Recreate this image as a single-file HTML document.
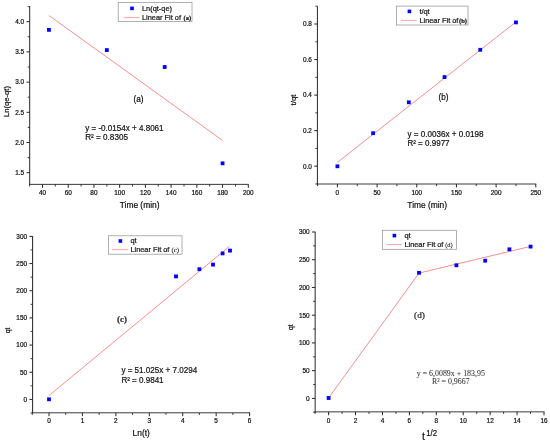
<!DOCTYPE html>
<html lang="en"><head><meta charset="utf-8"><title>Kinetic model fits</title>
<style>
html,body{margin:0;padding:0;background:#fff;}
body{width:550px;height:443px;overflow:hidden;font-family:"Liberation Sans", sans-serif;}
svg{display:block;}
</style></head><body>
<svg width="550" height="443" viewBox="0 0 550 443">
<defs><filter id="soft" x="-2%" y="-2%" width="104%" height="104%"><feGaussianBlur stdDeviation="0.25"/></filter><filter id="soft2" x="-2%" y="-2%" width="104%" height="104%"><feGaussianBlur stdDeviation="0.12"/></filter></defs>
<rect width="550" height="443" fill="#fff"/>
<g filter="url(#soft2)">
<line x1="29.7" y1="6.1" x2="29.7" y2="184.85" stroke="#262626" stroke-width="1.0"/>
<line x1="29.2" y1="184.4" x2="248.75" y2="184.4" stroke="#262626" stroke-width="0.9"/>
<line x1="26.5" y1="21.7" x2="29.7" y2="21.7" stroke="#262626" stroke-width="1.0"/>
<line x1="26.5" y1="51.9" x2="29.7" y2="51.9" stroke="#262626" stroke-width="1.0"/>
<line x1="26.5" y1="82.1" x2="29.7" y2="82.1" stroke="#262626" stroke-width="1.0"/>
<line x1="26.5" y1="112.3" x2="29.7" y2="112.3" stroke="#262626" stroke-width="1.0"/>
<line x1="26.5" y1="142.5" x2="29.7" y2="142.5" stroke="#262626" stroke-width="1.0"/>
<line x1="26.5" y1="172.7" x2="29.7" y2="172.7" stroke="#262626" stroke-width="1.0"/>
<line x1="27.7" y1="6.6" x2="29.7" y2="6.6" stroke="#262626" stroke-width="0.9"/>
<line x1="27.7" y1="36.8" x2="29.7" y2="36.8" stroke="#262626" stroke-width="0.9"/>
<line x1="27.7" y1="67" x2="29.7" y2="67" stroke="#262626" stroke-width="0.9"/>
<line x1="27.7" y1="97.2" x2="29.7" y2="97.2" stroke="#262626" stroke-width="0.9"/>
<line x1="27.7" y1="127.4" x2="29.7" y2="127.4" stroke="#262626" stroke-width="0.9"/>
<line x1="27.7" y1="157.6" x2="29.7" y2="157.6" stroke="#262626" stroke-width="0.9"/>
<line x1="42.5" y1="184.4" x2="42.5" y2="187.8" stroke="#262626" stroke-width="1.0"/>
<line x1="68.22" y1="184.4" x2="68.22" y2="187.8" stroke="#262626" stroke-width="1.0"/>
<line x1="93.95" y1="184.4" x2="93.95" y2="187.8" stroke="#262626" stroke-width="1.0"/>
<line x1="119.67" y1="184.4" x2="119.67" y2="187.8" stroke="#262626" stroke-width="1.0"/>
<line x1="145.4" y1="184.4" x2="145.4" y2="187.8" stroke="#262626" stroke-width="1.0"/>
<line x1="171.12" y1="184.4" x2="171.12" y2="187.8" stroke="#262626" stroke-width="1.0"/>
<line x1="196.85" y1="184.4" x2="196.85" y2="187.8" stroke="#262626" stroke-width="1.0"/>
<line x1="222.57" y1="184.4" x2="222.57" y2="187.8" stroke="#262626" stroke-width="1.0"/>
<line x1="248.3" y1="184.4" x2="248.3" y2="187.8" stroke="#262626" stroke-width="1.0"/>
<line x1="29.64" y1="184.4" x2="29.64" y2="186.5" stroke="#262626" stroke-width="0.9"/>
<line x1="55.36" y1="184.4" x2="55.36" y2="186.5" stroke="#262626" stroke-width="0.9"/>
<line x1="81.09" y1="184.4" x2="81.09" y2="186.5" stroke="#262626" stroke-width="0.9"/>
<line x1="106.81" y1="184.4" x2="106.81" y2="186.5" stroke="#262626" stroke-width="0.9"/>
<line x1="132.54" y1="184.4" x2="132.54" y2="186.5" stroke="#262626" stroke-width="0.9"/>
<line x1="158.26" y1="184.4" x2="158.26" y2="186.5" stroke="#262626" stroke-width="0.9"/>
<line x1="183.99" y1="184.4" x2="183.99" y2="186.5" stroke="#262626" stroke-width="0.9"/>
<line x1="209.71" y1="184.4" x2="209.71" y2="186.5" stroke="#262626" stroke-width="0.9"/>
<line x1="235.44" y1="184.4" x2="235.44" y2="186.5" stroke="#262626" stroke-width="0.9"/>
<line x1="317.4" y1="6.3" x2="317.4" y2="184.45" stroke="#262626" stroke-width="1.0"/>
<line x1="316.9" y1="184" x2="536.25" y2="184" stroke="#262626" stroke-width="0.9"/>
<line x1="314.2" y1="24" x2="317.4" y2="24" stroke="#262626" stroke-width="1.0"/>
<line x1="314.2" y1="59.55" x2="317.4" y2="59.55" stroke="#262626" stroke-width="1.0"/>
<line x1="314.2" y1="95.1" x2="317.4" y2="95.1" stroke="#262626" stroke-width="1.0"/>
<line x1="314.2" y1="130.65" x2="317.4" y2="130.65" stroke="#262626" stroke-width="1.0"/>
<line x1="314.2" y1="166.2" x2="317.4" y2="166.2" stroke="#262626" stroke-width="1.0"/>
<line x1="315.4" y1="6.23" x2="317.4" y2="6.23" stroke="#262626" stroke-width="0.9"/>
<line x1="315.4" y1="41.78" x2="317.4" y2="41.78" stroke="#262626" stroke-width="0.9"/>
<line x1="315.4" y1="77.33" x2="317.4" y2="77.33" stroke="#262626" stroke-width="0.9"/>
<line x1="315.4" y1="112.88" x2="317.4" y2="112.88" stroke="#262626" stroke-width="0.9"/>
<line x1="315.4" y1="148.42" x2="317.4" y2="148.42" stroke="#262626" stroke-width="0.9"/>
<line x1="315.4" y1="183.97" x2="317.4" y2="183.97" stroke="#262626" stroke-width="0.9"/>
<line x1="337.4" y1="184" x2="337.4" y2="187.4" stroke="#262626" stroke-width="1.0"/>
<line x1="377.08" y1="184" x2="377.08" y2="187.4" stroke="#262626" stroke-width="1.0"/>
<line x1="416.76" y1="184" x2="416.76" y2="187.4" stroke="#262626" stroke-width="1.0"/>
<line x1="456.44" y1="184" x2="456.44" y2="187.4" stroke="#262626" stroke-width="1.0"/>
<line x1="496.12" y1="184" x2="496.12" y2="187.4" stroke="#262626" stroke-width="1.0"/>
<line x1="535.8" y1="184" x2="535.8" y2="187.4" stroke="#262626" stroke-width="1.0"/>
<line x1="317.56" y1="184" x2="317.56" y2="186.1" stroke="#262626" stroke-width="0.9"/>
<line x1="357.24" y1="184" x2="357.24" y2="186.1" stroke="#262626" stroke-width="0.9"/>
<line x1="396.92" y1="184" x2="396.92" y2="186.1" stroke="#262626" stroke-width="0.9"/>
<line x1="436.6" y1="184" x2="436.6" y2="186.1" stroke="#262626" stroke-width="0.9"/>
<line x1="476.28" y1="184" x2="476.28" y2="186.1" stroke="#262626" stroke-width="0.9"/>
<line x1="515.96" y1="184" x2="515.96" y2="186.1" stroke="#262626" stroke-width="0.9"/>
<line x1="32.6" y1="236.1" x2="32.6" y2="413.25" stroke="#262626" stroke-width="1.0"/>
<line x1="32.1" y1="412.8" x2="250.05" y2="412.8" stroke="#262626" stroke-width="0.9"/>
<line x1="29.4" y1="236.4" x2="32.6" y2="236.4" stroke="#262626" stroke-width="1.0"/>
<line x1="29.4" y1="263.57" x2="32.6" y2="263.57" stroke="#262626" stroke-width="1.0"/>
<line x1="29.4" y1="290.73" x2="32.6" y2="290.73" stroke="#262626" stroke-width="1.0"/>
<line x1="29.4" y1="317.9" x2="32.6" y2="317.9" stroke="#262626" stroke-width="1.0"/>
<line x1="29.4" y1="345.07" x2="32.6" y2="345.07" stroke="#262626" stroke-width="1.0"/>
<line x1="29.4" y1="372.23" x2="32.6" y2="372.23" stroke="#262626" stroke-width="1.0"/>
<line x1="29.4" y1="399.4" x2="32.6" y2="399.4" stroke="#262626" stroke-width="1.0"/>
<line x1="30.6" y1="249.98" x2="32.6" y2="249.98" stroke="#262626" stroke-width="0.9"/>
<line x1="30.6" y1="277.15" x2="32.6" y2="277.15" stroke="#262626" stroke-width="0.9"/>
<line x1="30.6" y1="304.32" x2="32.6" y2="304.32" stroke="#262626" stroke-width="0.9"/>
<line x1="30.6" y1="331.48" x2="32.6" y2="331.48" stroke="#262626" stroke-width="0.9"/>
<line x1="30.6" y1="358.65" x2="32.6" y2="358.65" stroke="#262626" stroke-width="0.9"/>
<line x1="30.6" y1="385.82" x2="32.6" y2="385.82" stroke="#262626" stroke-width="0.9"/>
<line x1="30.6" y1="412.98" x2="32.6" y2="412.98" stroke="#262626" stroke-width="0.9"/>
<line x1="49" y1="412.8" x2="49" y2="416.2" stroke="#262626" stroke-width="1.0"/>
<line x1="82.43" y1="412.8" x2="82.43" y2="416.2" stroke="#262626" stroke-width="1.0"/>
<line x1="115.87" y1="412.8" x2="115.87" y2="416.2" stroke="#262626" stroke-width="1.0"/>
<line x1="149.3" y1="412.8" x2="149.3" y2="416.2" stroke="#262626" stroke-width="1.0"/>
<line x1="182.73" y1="412.8" x2="182.73" y2="416.2" stroke="#262626" stroke-width="1.0"/>
<line x1="216.17" y1="412.8" x2="216.17" y2="416.2" stroke="#262626" stroke-width="1.0"/>
<line x1="249.6" y1="412.8" x2="249.6" y2="416.2" stroke="#262626" stroke-width="1.0"/>
<line x1="32.28" y1="412.8" x2="32.28" y2="414.9" stroke="#262626" stroke-width="0.9"/>
<line x1="65.72" y1="412.8" x2="65.72" y2="414.9" stroke="#262626" stroke-width="0.9"/>
<line x1="99.15" y1="412.8" x2="99.15" y2="414.9" stroke="#262626" stroke-width="0.9"/>
<line x1="132.58" y1="412.8" x2="132.58" y2="414.9" stroke="#262626" stroke-width="0.9"/>
<line x1="166.02" y1="412.8" x2="166.02" y2="414.9" stroke="#262626" stroke-width="0.9"/>
<line x1="199.45" y1="412.8" x2="199.45" y2="414.9" stroke="#262626" stroke-width="0.9"/>
<line x1="232.88" y1="412.8" x2="232.88" y2="414.9" stroke="#262626" stroke-width="0.9"/>
<line x1="315.15" y1="231.7" x2="315.15" y2="412.3" stroke="#262626" stroke-width="1.0"/>
<line x1="314.65" y1="411.85" x2="544.45" y2="411.85" stroke="#262626" stroke-width="0.9"/>
<line x1="311.95" y1="232" x2="315.15" y2="232" stroke="#262626" stroke-width="1.0"/>
<line x1="311.95" y1="259.73" x2="315.15" y2="259.73" stroke="#262626" stroke-width="1.0"/>
<line x1="311.95" y1="287.47" x2="315.15" y2="287.47" stroke="#262626" stroke-width="1.0"/>
<line x1="311.95" y1="315.2" x2="315.15" y2="315.2" stroke="#262626" stroke-width="1.0"/>
<line x1="311.95" y1="342.93" x2="315.15" y2="342.93" stroke="#262626" stroke-width="1.0"/>
<line x1="311.95" y1="370.67" x2="315.15" y2="370.67" stroke="#262626" stroke-width="1.0"/>
<line x1="311.95" y1="398.4" x2="315.15" y2="398.4" stroke="#262626" stroke-width="1.0"/>
<line x1="313.15" y1="245.87" x2="315.15" y2="245.87" stroke="#262626" stroke-width="0.9"/>
<line x1="313.15" y1="273.6" x2="315.15" y2="273.6" stroke="#262626" stroke-width="0.9"/>
<line x1="313.15" y1="301.33" x2="315.15" y2="301.33" stroke="#262626" stroke-width="0.9"/>
<line x1="313.15" y1="329.07" x2="315.15" y2="329.07" stroke="#262626" stroke-width="0.9"/>
<line x1="313.15" y1="356.8" x2="315.15" y2="356.8" stroke="#262626" stroke-width="0.9"/>
<line x1="313.15" y1="384.53" x2="315.15" y2="384.53" stroke="#262626" stroke-width="0.9"/>
<line x1="313.15" y1="412.27" x2="315.15" y2="412.27" stroke="#262626" stroke-width="0.9"/>
<line x1="328.6" y1="411.85" x2="328.6" y2="415.25" stroke="#262626" stroke-width="1.0"/>
<line x1="355.53" y1="411.85" x2="355.53" y2="415.25" stroke="#262626" stroke-width="1.0"/>
<line x1="382.45" y1="411.85" x2="382.45" y2="415.25" stroke="#262626" stroke-width="1.0"/>
<line x1="409.38" y1="411.85" x2="409.38" y2="415.25" stroke="#262626" stroke-width="1.0"/>
<line x1="436.3" y1="411.85" x2="436.3" y2="415.25" stroke="#262626" stroke-width="1.0"/>
<line x1="463.23" y1="411.85" x2="463.23" y2="415.25" stroke="#262626" stroke-width="1.0"/>
<line x1="490.15" y1="411.85" x2="490.15" y2="415.25" stroke="#262626" stroke-width="1.0"/>
<line x1="517.08" y1="411.85" x2="517.08" y2="415.25" stroke="#262626" stroke-width="1.0"/>
<line x1="544" y1="411.85" x2="544" y2="415.25" stroke="#262626" stroke-width="1.0"/>
<line x1="315.14" y1="411.85" x2="315.14" y2="413.95" stroke="#262626" stroke-width="0.9"/>
<line x1="342.06" y1="411.85" x2="342.06" y2="413.95" stroke="#262626" stroke-width="0.9"/>
<line x1="368.99" y1="411.85" x2="368.99" y2="413.95" stroke="#262626" stroke-width="0.9"/>
<line x1="395.91" y1="411.85" x2="395.91" y2="413.95" stroke="#262626" stroke-width="0.9"/>
<line x1="422.84" y1="411.85" x2="422.84" y2="413.95" stroke="#262626" stroke-width="0.9"/>
<line x1="449.76" y1="411.85" x2="449.76" y2="413.95" stroke="#262626" stroke-width="0.9"/>
<line x1="476.69" y1="411.85" x2="476.69" y2="413.95" stroke="#262626" stroke-width="0.9"/>
<line x1="503.61" y1="411.85" x2="503.61" y2="413.95" stroke="#262626" stroke-width="0.9"/>
<line x1="530.54" y1="411.85" x2="530.54" y2="413.95" stroke="#262626" stroke-width="0.9"/>
</g>
<g filter="url(#soft)">
<text x="24.2" y="24.05" font-size="6.45" text-anchor="end" font-family='"Liberation Sans", sans-serif' font-weight="normal" fill="#151515" stroke="#151515" stroke-width="0.22">4.0</text>
<text x="24.2" y="54.25" font-size="6.45" text-anchor="end" font-family='"Liberation Sans", sans-serif' font-weight="normal" fill="#151515" stroke="#151515" stroke-width="0.22">3.5</text>
<text x="24.2" y="84.45" font-size="6.45" text-anchor="end" font-family='"Liberation Sans", sans-serif' font-weight="normal" fill="#151515" stroke="#151515" stroke-width="0.22">3.0</text>
<text x="24.2" y="114.65" font-size="6.45" text-anchor="end" font-family='"Liberation Sans", sans-serif' font-weight="normal" fill="#151515" stroke="#151515" stroke-width="0.22">2.5</text>
<text x="24.2" y="144.85" font-size="6.45" text-anchor="end" font-family='"Liberation Sans", sans-serif' font-weight="normal" fill="#151515" stroke="#151515" stroke-width="0.22">2.0</text>
<text x="24.2" y="175.05" font-size="6.45" text-anchor="end" font-family='"Liberation Sans", sans-serif' font-weight="normal" fill="#151515" stroke="#151515" stroke-width="0.22">1.5</text>
<text x="42.5" y="195" font-size="6.45" text-anchor="middle" font-family='"Liberation Sans", sans-serif' font-weight="normal" fill="#151515" stroke="#151515" stroke-width="0.22">40</text>
<text x="68.22" y="195" font-size="6.45" text-anchor="middle" font-family='"Liberation Sans", sans-serif' font-weight="normal" fill="#151515" stroke="#151515" stroke-width="0.22">60</text>
<text x="93.95" y="195" font-size="6.45" text-anchor="middle" font-family='"Liberation Sans", sans-serif' font-weight="normal" fill="#151515" stroke="#151515" stroke-width="0.22">80</text>
<text x="119.67" y="195" font-size="6.45" text-anchor="middle" font-family='"Liberation Sans", sans-serif' font-weight="normal" fill="#151515" stroke="#151515" stroke-width="0.22">100</text>
<text x="145.4" y="195" font-size="6.45" text-anchor="middle" font-family='"Liberation Sans", sans-serif' font-weight="normal" fill="#151515" stroke="#151515" stroke-width="0.22">120</text>
<text x="171.12" y="195" font-size="6.45" text-anchor="middle" font-family='"Liberation Sans", sans-serif' font-weight="normal" fill="#151515" stroke="#151515" stroke-width="0.22">140</text>
<text x="196.85" y="195" font-size="6.45" text-anchor="middle" font-family='"Liberation Sans", sans-serif' font-weight="normal" fill="#151515" stroke="#151515" stroke-width="0.22">160</text>
<text x="222.57" y="195" font-size="6.45" text-anchor="middle" font-family='"Liberation Sans", sans-serif' font-weight="normal" fill="#151515" stroke="#151515" stroke-width="0.22">180</text>
<text x="248.3" y="195" font-size="6.45" text-anchor="middle" font-family='"Liberation Sans", sans-serif' font-weight="normal" fill="#151515" stroke="#151515" stroke-width="0.22">200</text>
<polyline points="48.93,15.47 222.57,140.44" fill="none" stroke="#f08282" stroke-width="0.9"/>
<rect x="47.03" y="27.95" width="3.8" height="3.8" fill="#0000ff"/>
<rect x="104.91" y="48.19" width="3.8" height="3.8" fill="#0000ff"/>
<rect x="162.79" y="65.1" width="3.8" height="3.8" fill="#0000ff"/>
<rect x="220.67" y="161.44" width="3.8" height="3.8" fill="#0000ff"/>
<rect x="118.2" y="2.6" width="73.8" height="18.8" fill="#fff" stroke="#969696" stroke-width="0.75"/>
<rect x="130.2" y="6.6" width="3.6" height="3.6" fill="#0000ff"/>
<line x1="123.6" y1="17.6" x2="139.6" y2="17.6" stroke="#f59595" stroke-width="0.85"/>
<text x="142" y="11.2" font-size="7.4" text-anchor="start" font-family='"Liberation Sans", sans-serif' font-weight="normal" fill="#151515" stroke="#151515" stroke-width="0.22">Ln(qt-qe)</text>
<text x="142" y="19.7" font-size="7.4" text-anchor="start" font-family='"Liberation Sans", sans-serif' font-weight="normal" fill="#151515" stroke="#151515" stroke-width="0.22">Linear Fit of</text>
<text x="183.6" y="19.7" font-size="6.6" text-anchor="start" font-family='"Liberation Serif", serif' font-weight="bold" fill="#151515" stroke="#151515" stroke-width="0.22">(a)</text>
<text x="133.6" y="101.6" font-size="8.2" text-anchor="start" font-family='"Liberation Sans", sans-serif' font-weight="normal" fill="#151515" stroke="#151515" stroke-width="0.22">(a)</text>
<text x="85.2" y="130.5" font-size="8.6" text-anchor="start" font-family='"Liberation Sans", sans-serif' font-weight="normal" fill="#151515" stroke="#151515" stroke-width="0.22" textLength="78.4" lengthAdjust="spacingAndGlyphs">y = -0.0154x + 4.8061</text>
<text x="85.2" y="139.9" font-size="8.6" text-anchor="start" font-family='"Liberation Sans", sans-serif' font-weight="normal" fill="#151515" stroke="#151515" stroke-width="0.22" textLength="42.8" lengthAdjust="spacingAndGlyphs">R² = 0.8305</text>
<text transform="translate(9.4,101.5) rotate(-90)" font-size="7.6" text-anchor="middle" font-family='"Liberation Sans", sans-serif' fill="#151515" stroke="#151515" stroke-width="0.22">Ln(qe-qt)</text>
<text x="139.6" y="208" font-size="8.4" text-anchor="middle" font-family='"Liberation Sans", sans-serif' fill="#151515" stroke="#151515" stroke-width="0.22">Time (min)</text>
<text x="311.9" y="26.35" font-size="6.45" text-anchor="end" font-family='"Liberation Sans", sans-serif' font-weight="normal" fill="#151515" stroke="#151515" stroke-width="0.22">0.8</text>
<text x="311.9" y="61.9" font-size="6.45" text-anchor="end" font-family='"Liberation Sans", sans-serif' font-weight="normal" fill="#151515" stroke="#151515" stroke-width="0.22">0.6</text>
<text x="311.9" y="97.45" font-size="6.45" text-anchor="end" font-family='"Liberation Sans", sans-serif' font-weight="normal" fill="#151515" stroke="#151515" stroke-width="0.22">0.4</text>
<text x="311.9" y="133" font-size="6.45" text-anchor="end" font-family='"Liberation Sans", sans-serif' font-weight="normal" fill="#151515" stroke="#151515" stroke-width="0.22">0.2</text>
<text x="311.9" y="168.55" font-size="6.45" text-anchor="end" font-family='"Liberation Sans", sans-serif' font-weight="normal" fill="#151515" stroke="#151515" stroke-width="0.22">0.0</text>
<text x="337.4" y="194.8" font-size="6.45" text-anchor="middle" font-family='"Liberation Sans", sans-serif' font-weight="normal" fill="#151515" stroke="#151515" stroke-width="0.22">0</text>
<text x="377.08" y="194.8" font-size="6.45" text-anchor="middle" font-family='"Liberation Sans", sans-serif' font-weight="normal" fill="#151515" stroke="#151515" stroke-width="0.22">50</text>
<text x="416.76" y="194.8" font-size="6.45" text-anchor="middle" font-family='"Liberation Sans", sans-serif' font-weight="normal" fill="#151515" stroke="#151515" stroke-width="0.22">100</text>
<text x="456.44" y="194.8" font-size="6.45" text-anchor="middle" font-family='"Liberation Sans", sans-serif' font-weight="normal" fill="#151515" stroke="#151515" stroke-width="0.22">150</text>
<text x="496.12" y="194.8" font-size="6.45" text-anchor="middle" font-family='"Liberation Sans", sans-serif' font-weight="normal" fill="#151515" stroke="#151515" stroke-width="0.22">200</text>
<text x="535.8" y="194.8" font-size="6.45" text-anchor="middle" font-family='"Liberation Sans", sans-serif' font-weight="normal" fill="#151515" stroke="#151515" stroke-width="0.22">250</text>
<polyline points="337.4,162.4 515.96,21.9" fill="none" stroke="#f08282" stroke-width="0.9"/>
<rect x="335.5" y="164.4" width="3.8" height="3.8" fill="#0000ff"/>
<rect x="371.21" y="131.3" width="3.8" height="3.8" fill="#0000ff"/>
<rect x="406.92" y="100.4" width="3.8" height="3.8" fill="#0000ff"/>
<rect x="442.64" y="75.2" width="3.8" height="3.8" fill="#0000ff"/>
<rect x="478.35" y="47.9" width="3.8" height="3.8" fill="#0000ff"/>
<rect x="514.06" y="20.5" width="3.8" height="3.8" fill="#0000ff"/>
<rect x="396.4" y="6.1" width="71.6" height="18.9" fill="#fff" stroke="#969696" stroke-width="0.75"/>
<rect x="407.6" y="9.6" width="3.6" height="3.6" fill="#0000ff"/>
<line x1="401" y1="20.4" x2="416.6" y2="20.4" stroke="#f59595" stroke-width="0.85"/>
<text x="419.4" y="14.2" font-size="7.4" text-anchor="start" font-family='"Liberation Sans", sans-serif' font-weight="normal" fill="#151515" stroke="#151515" stroke-width="0.22">t/qt</text>
<text x="419.4" y="22.7" font-size="7.4" text-anchor="start" font-family='"Liberation Sans", sans-serif' font-weight="normal" fill="#151515" stroke="#151515" stroke-width="0.22">Linear Fit of</text>
<text x="459" y="22.7" font-size="6.6" text-anchor="start" font-family='"Liberation Serif", serif' font-weight="bold" fill="#151515" stroke="#151515" stroke-width="0.22">(b)</text>
<text x="438.6" y="100.4" font-size="8.2" text-anchor="start" font-family='"Liberation Sans", sans-serif' font-weight="normal" fill="#151515" stroke="#151515" stroke-width="0.22">(b)</text>
<text x="407.4" y="136.5" font-size="8.6" text-anchor="start" font-family='"Liberation Sans", sans-serif' font-weight="normal" fill="#151515" stroke="#151515" stroke-width="0.22" textLength="76" lengthAdjust="spacingAndGlyphs">y = 0.0036x + 0.0198</text>
<text x="407.4" y="146.3" font-size="8.6" text-anchor="start" font-family='"Liberation Sans", sans-serif' font-weight="normal" fill="#151515" stroke="#151515" stroke-width="0.22" textLength="42.2" lengthAdjust="spacingAndGlyphs">R² = 0.9977</text>
<text transform="translate(296,100) rotate(-90)" font-size="8" text-anchor="middle" font-family='"Liberation Sans", sans-serif' fill="#151515" stroke="#151515" stroke-width="0.22">t/qt</text>
<text x="427.2" y="207.6" font-size="8.4" text-anchor="middle" font-family='"Liberation Sans", sans-serif' fill="#151515" stroke="#151515" stroke-width="0.22">Time (min)</text>
<text x="27.1" y="238.75" font-size="6.45" text-anchor="end" font-family='"Liberation Sans", sans-serif' font-weight="normal" fill="#151515" stroke="#151515" stroke-width="0.22">300</text>
<text x="27.1" y="265.92" font-size="6.45" text-anchor="end" font-family='"Liberation Sans", sans-serif' font-weight="normal" fill="#151515" stroke="#151515" stroke-width="0.22">250</text>
<text x="27.1" y="293.08" font-size="6.45" text-anchor="end" font-family='"Liberation Sans", sans-serif' font-weight="normal" fill="#151515" stroke="#151515" stroke-width="0.22">200</text>
<text x="27.1" y="320.25" font-size="6.45" text-anchor="end" font-family='"Liberation Sans", sans-serif' font-weight="normal" fill="#151515" stroke="#151515" stroke-width="0.22">150</text>
<text x="27.1" y="347.42" font-size="6.45" text-anchor="end" font-family='"Liberation Sans", sans-serif' font-weight="normal" fill="#151515" stroke="#151515" stroke-width="0.22">100</text>
<text x="27.1" y="374.58" font-size="6.45" text-anchor="end" font-family='"Liberation Sans", sans-serif' font-weight="normal" fill="#151515" stroke="#151515" stroke-width="0.22">50</text>
<text x="27.1" y="401.75" font-size="6.45" text-anchor="end" font-family='"Liberation Sans", sans-serif' font-weight="normal" fill="#151515" stroke="#151515" stroke-width="0.22">0</text>
<text x="49" y="423.3" font-size="6.45" text-anchor="middle" font-family='"Liberation Sans", sans-serif' font-weight="normal" fill="#151515" stroke="#151515" stroke-width="0.22">0</text>
<text x="82.43" y="423.3" font-size="6.45" text-anchor="middle" font-family='"Liberation Sans", sans-serif' font-weight="normal" fill="#151515" stroke="#151515" stroke-width="0.22">1</text>
<text x="115.87" y="423.3" font-size="6.45" text-anchor="middle" font-family='"Liberation Sans", sans-serif' font-weight="normal" fill="#151515" stroke="#151515" stroke-width="0.22">2</text>
<text x="149.3" y="423.3" font-size="6.45" text-anchor="middle" font-family='"Liberation Sans", sans-serif' font-weight="normal" fill="#151515" stroke="#151515" stroke-width="0.22">3</text>
<text x="182.73" y="423.3" font-size="6.45" text-anchor="middle" font-family='"Liberation Sans", sans-serif' font-weight="normal" fill="#151515" stroke="#151515" stroke-width="0.22">4</text>
<text x="216.17" y="423.3" font-size="6.45" text-anchor="middle" font-family='"Liberation Sans", sans-serif' font-weight="normal" fill="#151515" stroke="#151515" stroke-width="0.22">5</text>
<text x="249.6" y="423.3" font-size="6.45" text-anchor="middle" font-family='"Liberation Sans", sans-serif' font-weight="normal" fill="#151515" stroke="#151515" stroke-width="0.22">6</text>
<polyline points="49,395.58 229.54,246.25" fill="none" stroke="#f08282" stroke-width="0.9"/>
<rect x="47.1" y="397.4" width="3.8" height="3.8" fill="#0000ff"/>
<rect x="174.1" y="274.5" width="3.8" height="3.8" fill="#0000ff"/>
<rect x="197.5" y="267.3" width="3.8" height="3.8" fill="#0000ff"/>
<rect x="211.1" y="262.7" width="3.8" height="3.8" fill="#0000ff"/>
<rect x="220.7" y="251.5" width="3.8" height="3.8" fill="#0000ff"/>
<rect x="228.1" y="248.7" width="3.8" height="3.8" fill="#0000ff"/>
<rect x="108.4" y="235.8" width="73.6" height="18.4" fill="#fff" stroke="#969696" stroke-width="0.75"/>
<rect x="118.6" y="239.2" width="3.6" height="3.6" fill="#0000ff"/>
<line x1="112" y1="249.6" x2="128" y2="249.6" stroke="#f59595" stroke-width="0.85"/>
<text x="130.4" y="243.4" font-size="7.4" text-anchor="start" font-family='"Liberation Sans", sans-serif' font-weight="normal" fill="#151515" stroke="#151515" stroke-width="0.22">qt</text>
<text x="130.4" y="252" font-size="7.4" text-anchor="start" font-family='"Liberation Sans", sans-serif' font-weight="normal" fill="#151515" stroke="#151515" stroke-width="0.22">Linear Fit of</text>
<text x="171.6" y="252" font-size="6.8" text-anchor="start" font-family='"Liberation Serif", serif' font-weight="normal" fill="#151515" stroke="#151515" stroke-width="0.08">(c)</text>
<text x="117" y="321.9" font-size="9" text-anchor="start" font-family='"Liberation Serif", serif' font-weight="bold" fill="#2a2a2a" stroke="#2a2a2a" stroke-width="0.22">(c)</text>
<text x="121.4" y="373.1" font-size="8.6" text-anchor="start" font-family='"Liberation Sans", sans-serif' font-weight="normal" fill="#151515" stroke="#151515" stroke-width="0.22" textLength="75.8" lengthAdjust="spacingAndGlyphs">y = 51.025x + 7.0294</text>
<text x="121.4" y="383.2" font-size="8.6" text-anchor="start" font-family='"Liberation Sans", sans-serif' font-weight="normal" fill="#151515" stroke="#151515" stroke-width="0.22" textLength="42.2" lengthAdjust="spacingAndGlyphs">R² = 0.9841</text>
<text transform="translate(10.3,330.4) rotate(-90)" font-size="6.7" text-anchor="middle" font-family='"Liberation Sans", sans-serif' fill="#151515" stroke="#151515" stroke-width="0.22">qt</text>
<text x="141.2" y="435.6" font-size="8.4" text-anchor="middle" font-family='"Liberation Sans", sans-serif' fill="#151515" stroke="#151515" stroke-width="0.22">Ln(t)</text>
<text x="309.65" y="234.35" font-size="6.45" text-anchor="end" font-family='"Liberation Sans", sans-serif' font-weight="normal" fill="#151515" stroke="#151515" stroke-width="0.22">300</text>
<text x="309.65" y="262.08" font-size="6.45" text-anchor="end" font-family='"Liberation Sans", sans-serif' font-weight="normal" fill="#151515" stroke="#151515" stroke-width="0.22">250</text>
<text x="309.65" y="289.82" font-size="6.45" text-anchor="end" font-family='"Liberation Sans", sans-serif' font-weight="normal" fill="#151515" stroke="#151515" stroke-width="0.22">200</text>
<text x="309.65" y="317.55" font-size="6.45" text-anchor="end" font-family='"Liberation Sans", sans-serif' font-weight="normal" fill="#151515" stroke="#151515" stroke-width="0.22">150</text>
<text x="309.65" y="345.28" font-size="6.45" text-anchor="end" font-family='"Liberation Sans", sans-serif' font-weight="normal" fill="#151515" stroke="#151515" stroke-width="0.22">100</text>
<text x="309.65" y="373.02" font-size="6.45" text-anchor="end" font-family='"Liberation Sans", sans-serif' font-weight="normal" fill="#151515" stroke="#151515" stroke-width="0.22">50</text>
<text x="309.65" y="400.75" font-size="6.45" text-anchor="end" font-family='"Liberation Sans", sans-serif' font-weight="normal" fill="#151515" stroke="#151515" stroke-width="0.22">0</text>
<text x="328.6" y="422.6" font-size="6.45" text-anchor="middle" font-family='"Liberation Sans", sans-serif' font-weight="normal" fill="#151515" stroke="#151515" stroke-width="0.22">0</text>
<text x="355.53" y="422.6" font-size="6.45" text-anchor="middle" font-family='"Liberation Sans", sans-serif' font-weight="normal" fill="#151515" stroke="#151515" stroke-width="0.22">2</text>
<text x="382.45" y="422.6" font-size="6.45" text-anchor="middle" font-family='"Liberation Sans", sans-serif' font-weight="normal" fill="#151515" stroke="#151515" stroke-width="0.22">4</text>
<text x="409.38" y="422.6" font-size="6.45" text-anchor="middle" font-family='"Liberation Sans", sans-serif' font-weight="normal" fill="#151515" stroke="#151515" stroke-width="0.22">6</text>
<text x="436.3" y="422.6" font-size="6.45" text-anchor="middle" font-family='"Liberation Sans", sans-serif' font-weight="normal" fill="#151515" stroke="#151515" stroke-width="0.22">8</text>
<text x="463.23" y="422.6" font-size="6.45" text-anchor="middle" font-family='"Liberation Sans", sans-serif' font-weight="normal" fill="#151515" stroke="#151515" stroke-width="0.22">10</text>
<text x="490.15" y="422.6" font-size="6.45" text-anchor="middle" font-family='"Liberation Sans", sans-serif' font-weight="normal" fill="#151515" stroke="#151515" stroke-width="0.22">12</text>
<text x="517.08" y="422.6" font-size="6.45" text-anchor="middle" font-family='"Liberation Sans", sans-serif' font-weight="normal" fill="#151515" stroke="#151515" stroke-width="0.22">14</text>
<text x="544" y="422.6" font-size="6.45" text-anchor="middle" font-family='"Liberation Sans", sans-serif' font-weight="normal" fill="#151515" stroke="#151515" stroke-width="0.22">16</text>
<polyline points="328.6,398 419,273.1 530.6,246.4" fill="none" stroke="#f08282" stroke-width="0.9"/>
<rect x="326.7" y="396.1" width="3.8" height="3.8" fill="#0000ff"/>
<rect x="417.1" y="270.9" width="3.8" height="3.8" fill="#0000ff"/>
<rect x="454.5" y="263.4" width="3.8" height="3.8" fill="#0000ff"/>
<rect x="483.3" y="258.8" width="3.8" height="3.8" fill="#0000ff"/>
<rect x="507.5" y="247.4" width="3.8" height="3.8" fill="#0000ff"/>
<rect x="528.7" y="244.7" width="3.8" height="3.8" fill="#0000ff"/>
<rect x="382.4" y="230.3" width="74" height="19" fill="#fff" stroke="#969696" stroke-width="0.75"/>
<rect x="392.6" y="233.8" width="3.6" height="3.6" fill="#0000ff"/>
<line x1="386.4" y1="244.6" x2="402" y2="244.6" stroke="#f59595" stroke-width="0.85"/>
<text x="404.4" y="238.2" font-size="7.4" text-anchor="start" font-family='"Liberation Sans", sans-serif' font-weight="normal" fill="#151515" stroke="#151515" stroke-width="0.22">qt</text>
<text x="404.4" y="246.7" font-size="7.4" text-anchor="start" font-family='"Liberation Sans", sans-serif' font-weight="normal" fill="#151515" stroke="#151515" stroke-width="0.22">Linear Fit of</text>
<text x="445.2" y="246.7" font-size="6.4" text-anchor="start" font-family='"Liberation Serif", serif' font-weight="normal" fill="#151515" stroke="#151515" stroke-width="0.08">(d)</text>
<text x="414" y="317.7" font-size="8.6" textLength="11" lengthAdjust="spacingAndGlyphs" font-family='"Liberation Serif", serif' fill="#2a2a2a" stroke="#2a2a2a" stroke-width="0.22">(d)</text>
<text x="450.8" y="375.6" font-size="7.9" text-anchor="middle" font-family='"Liberation Serif", serif' font-weight="normal" fill="#3a3a3a" stroke="#3a3a3a" stroke-width="0.08">y = 6,0089x + 183,95</text>
<text x="450.8" y="384.2" font-size="7.9" text-anchor="middle" font-family='"Liberation Serif", serif' font-weight="normal" fill="#3a3a3a" stroke="#3a3a3a" stroke-width="0.08">R² = 0,9667</text>
<text transform="translate(292.9,327.3) rotate(-90)" font-size="6.7" text-anchor="middle" font-family='"Liberation Sans", sans-serif' fill="#151515" stroke="#151515" stroke-width="0.22">qt</text>
<text x="422.1" y="440.4" font-size="10.6" font-family='"Liberation Sans", sans-serif' fill="#151515" stroke="#151515" stroke-width="0.22">t</text><text x="426.2" y="436" font-size="8.6" textLength="11" lengthAdjust="spacingAndGlyphs" font-family='"Liberation Sans", sans-serif' fill="#151515" stroke="#151515" stroke-width="0.22">1/2</text>
</g>
</svg>
</body></html>
